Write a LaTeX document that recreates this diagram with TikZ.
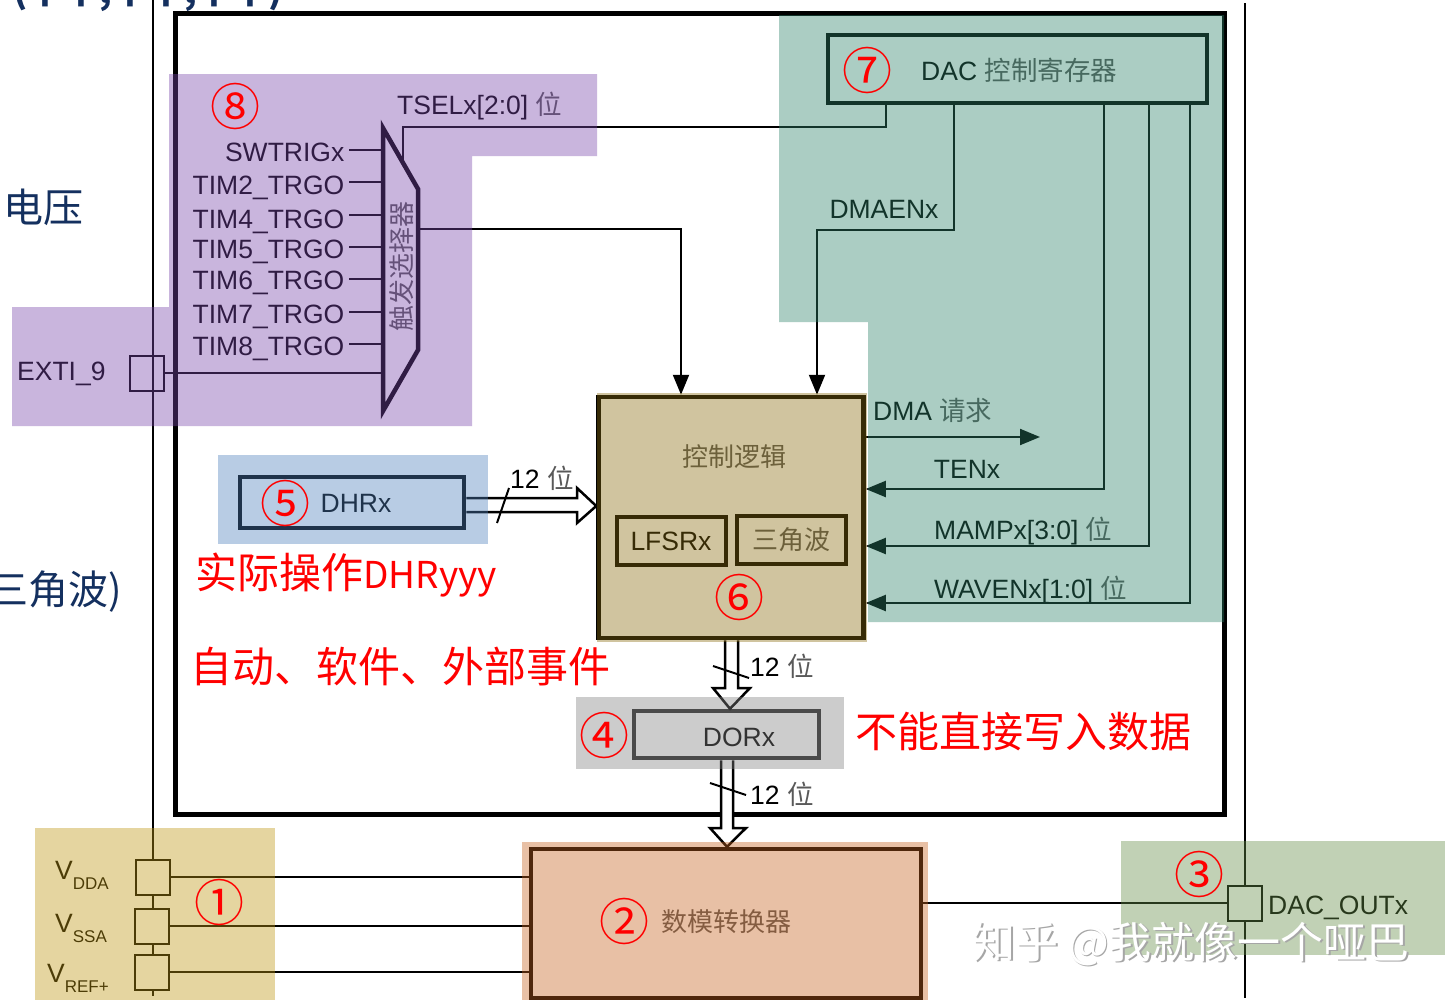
\documentclass[tikz,border=0pt]{standalone}
\usepackage{fontspec}
\setmainfont{Liberation Sans}
\newfontfamily\cjk{Noto Sans CJK SC}
\usetikzlibrary{arrows.meta}
\definecolor{cjkgray}{gray}{0.35}
\definecolor{slideblue}{RGB}{20,48,95}
\tikzset
{
	txt/.style={inner sep=0pt, text height=18.5pt, text depth=0pt, font=\fontsize{26.5}{26.5}\selectfont},
	cn/.style={inner sep=0pt, text=cjkgray, font=\cjk\fontsize{26}{26}\selectfont},
	num/.style={inner sep=0pt, text=red, font=\cjk\fontsize{50}{50}\selectfont},
	red note/.style={inner sep=0pt, text=red, font=\cjk\fontsize{42}{42}\selectfont},
	side note/.style={inner sep=0pt, text=slideblue, font=\cjk\fontsize{40}{40}\selectfont},
	block/.style={draw, line width=4.5pt, inner sep=0pt},
	pin/.style={draw, line width=2pt, minimum width=34pt, minimum height=35pt, inner sep=0pt},
	wire/.style={line width=2pt},
	wire arrow/.style={line width=2pt, -{Triangle[length=20pt, width=16pt]}},
	bus/.style={line width=2.5pt, fill=white}
}
\begin{document}
\begin{tikzpicture}[x=1pt, y=-1pt]
{
	\useasboundingbox (0,0) rectangle (1449,1004);
	\fill[white] (0,0) rectangle (1449,1004);

	% text of the slide behind the picture
	\node[side note, anchor=base west, font=\cjk\bfseries\fontsize{36}{36}\selectfont] (SlideTop) at (13,3) {(中中,中中,中中)};
	\node[side note, anchor=west] (SlideVolt) at (3,207) {电压};
	\node[side note, anchor=east] (SlideWave) at (122,592) {三角波)};

	% power rails and chip frame
	\draw[line width=5pt] (175,13) rectangle (1224,814);
	\coordinate (RailTop) at (153,0);
	\coordinate (RailEnd) at (153,996);
	\coordinate (OutTop) at (1245,3);
	\coordinate (OutEnd) at (1245,998);
	\draw[wire] (RailTop) -- (RailEnd);
	\draw[wire] (OutTop) -- (OutEnd);

	% trigger selector
	\draw[line width=4.5pt] (383,128) -- (418,189) -- (418,350) -- (383,411) -- cycle;
	\node[cn, rotate=90] (MuxText) at (402,266) {触发选择器};
	\coordinate (MuxOut) at (418,229);
	\coordinate (MuxSel) at (403,160);

	\foreach \name/\y/\ty in {SWTRIGx/150/152, TIM2_TRGO/182/185, TIM4_TRGO/215/219, TIM5_TRGO/247/249, TIM6_TRGO/279/280, TIM7_TRGO/312/314, TIM8_TRGO/344/346}
	{
		\node[txt, anchor=east] (\name) at (344.5,\ty) {\detokenize\expandafter{\name}};
		\coordinate (\name In) at (383,\y);
		\draw[wire] (\name In) -- (349,\y);
	}
	\node[txt, anchor=west] (Exti) at (17,371) {EXTI\_9};
	\node[pin] (ExtiPin) at (146.5,373) {};
	\coordinate (ExtiIn) at (383,373);
	\draw[wire] (ExtiPin) -- (ExtiIn);

	% control register
	\node[block, minimum width=379pt, minimum height=68pt] (Ctrl) at (1017.5,69) {};
	\node[txt, anchor=west] (CtrlText) at (921,71) {DAC {\cjk\textcolor{cjkgray}{控制寄存器}}};
	\node[txt, anchor=west] (Tsel) at (397,105) {TSELx[2:0] {\cjk\textcolor{cjkgray}{位}}};
	\node[txt] (Dmaen) at (884,209) {DMAENx};

	% control logic
	\node[block, minimum width=265pt, minimum height=241pt] (Logic) at (731,517.5) {};
	\node[cn] (LogicText) at (734,457) {控制逻辑};
	\node[block, line width=4pt, minimum width=109pt, minimum height=48pt, font=\fontsize{26.5}{26.5}\selectfont] (Lfsr) at (671,541) {LFSRx};
	\node[block, line width=4pt, minimum width=109pt, minimum height=48pt, text=cjkgray, font=\cjk\fontsize{26}{26}\selectfont] (Tri) at (791.5,540) {三角波};

	\draw[wire] (MuxSel) |- (886,127) -- (Ctrl.south -| 886,0);
	\draw[wire arrow] (MuxOut) -| (Logic.north -| 681,0);
	\draw[wire arrow] (Ctrl.south -| 954,0) |- (817,230) -- (Logic.north -| 817,0);

	\node[txt, anchor=west] (DmaText) at (873,411) {DMA {\cjk\textcolor{cjkgray}{请求}}};
	\coordinate (DmaEnd) at (1040,437);
	\draw[wire arrow] (Logic.east |- DmaEnd) -- (DmaEnd);
	\node[txt] (Ten) at (967,469) {TENx};
	\node[txt, anchor=west] (Mamp) at (934,530) {MAMPx[3:0] {\cjk\textcolor{cjkgray}{位}}};
	\node[txt, anchor=west] (Waven) at (934,589) {WAVENx[1:0] {\cjk\textcolor{cjkgray}{位}}};
	\draw[wire arrow] (Ctrl.south -| 1104,0) |- (Logic.east |- 0,489);
	\draw[wire arrow] (Ctrl.south -| 1149,0) |- (Logic.east |- 0,546);
	\draw[wire arrow] (Ctrl.south -| 1190,0) |- (Logic.east |- 0,603);

	% data path
	\node[block, minimum width=224pt, minimum height=51pt] (Dhr) at (352,502.5) {};
	\node[txt] (DhrText) at (356,503) {DHRx};
	\draw[bus] (Dhr.east |- 0,498) -- (577,498) -- (577,488) -- (Logic.west |- 0,506) -- (577,523) -- (577,512) -- (Dhr.east |- 0,512);
	\coordinate (DhrSlashA) at (497,523);
	\coordinate (DhrSlashB) at (509,488);
	\draw[wire] (DhrSlashA) -- (DhrSlashB);
	\node[txt, anchor=west] (DhrBits) at (510,479) {12 {\cjk\textcolor{cjkgray}{位}}};

	\node[block, draw=black!85, minimum width=185pt, minimum height=47pt] (Dor) at (726.5,734.5) {};
	\node[txt] (DorText) at (739,737) {DORx};
	\draw[bus] (Logic.south -| 725,0) -- (725,688) -- (713,688) -- (Dor.north -| 730,0) -- (750,688) -- (738,688) -- (Logic.south -| 738,0);
	\coordinate (DorSlashA) at (713,666);
	\coordinate (DorSlashB) at (749,678);
	\draw[wire] (DorSlashA) -- (DorSlashB);
	\node[txt, anchor=west] (DorBits) at (750,667) {12 {\cjk\textcolor{cjkgray}{位}}};

	\node[block, minimum width=390pt, minimum height=149pt] (Dac) at (726,923.5) {};
	\node[cn] (DacText) at (726,922) {数模转换器};
	\draw[bus] (Dor.south -| 721,0) -- (721,828) -- (710,828) -- (Dac.north -| 727,0) -- (746,828) -- (733,828) -- (Dor.south -| 733,0);
	\coordinate (OutSlashA) at (710,783);
	\coordinate (OutSlashB) at (746,795);
	\draw[wire] (OutSlashA) -- (OutSlashB);
	\node[txt, anchor=west] (OutBits) at (750,795) {12 {\cjk\textcolor{cjkgray}{位}}};

	% analog pins
	\node[pin, fill=white] (Vdda) at (152.5,877) {};
	\node[pin, fill=white] (Vssa) at (151.5,926) {};
	\node[pin, fill=white] (Vref) at (151.5,972) {};
	\node[txt, anchor=west] (VddaText) at (55,870) {V\raisebox{-10pt}{\fontsize{17}{17}\selectfont DDA}};
	\node[txt, anchor=west] (VssaText) at (55,923) {V\raisebox{-10pt}{\fontsize{17}{17}\selectfont SSA}};
	\node[txt, anchor=west] (VrefText) at (47,973) {V\raisebox{-10pt}{\fontsize{17}{17}\selectfont REF+}};
	\draw[wire] (Vdda) -- (Dac.west |- Vdda);
	\draw[wire] (Vssa) -- (Dac.west |- Vssa);
	\draw[wire] (Vref) -- (Dac.west |- Vref);
	\node[pin, fill=white] (OutPin) at (1244.5,903) {};
	\draw[wire] (Dac.east |- OutPin) -- (OutPin);
	\node[txt, anchor=west] (OutText) at (1268,905) {DAC\_OUTx};

	% coloured zones over everything
	\begin{scope}[fill opacity=0.4]
		\fill[fill={rgb,255:red,120;green,70;blue,170}] (169,74) -- (597,74) -- (597,156) -- (472,156) -- (472,426) -- (12,426) -- (12,307) -- (169,307) -- cycle;
		\fill[fill={rgb,255:red,45;green,130;blue,105}] (779,15) -- (1224,15) -- (1224,622) -- (868,622) -- (868,322) -- (779,322) -- cycle;
		\fill[fill={rgb,255:red,78;green,128;blue,188}] (218,455) rectangle (488,544);
		\fill[fill=gray] (576,697) rectangle (844,769);
		\fill[fill={rgb,255:red,138;green,108;blue,15}] (597,393) rectangle (867,642);
		\fill[fill={rgb,255:red,192;green,152;blue,18}] (35,828) rectangle (275,1000);
		\fill[fill={rgb,255:red,198;green,98;blue,30}] (522,842) rectangle (928,1000);
		\fill[fill={rgb,255:red,100;green,142;blue,70}] (1121,841) rectangle (1445,955);
	\end{scope}

	% red notes on top
	\node[num] (One) at (219,902) {①};
	\node[num] (Two) at (624,921) {②};
	\node[num] (Three) at (1199,874) {③};
	\node[num] (Four) at (604,735) {④};
	\node[num] (Five) at (285,503) {⑤};
	\node[num] (Six) at (739,597) {⑥};
	\node[num] (Seven) at (867,70) {⑦};
	\node[num] (Eight) at (235,106) {⑧};
	\node[red note, anchor=west] (NoteDhr) at (195,575) {实际操作{\fontsize{37}{37}\selectfont DHRyyy}};
	\node[red note, anchor=west] (NoteEvent) at (190,667) {自动、软件、外部事件};
	\node[red note, anchor=west] (NoteDor) at (855,732) {不能直接写入数据};

	% watermark
	\node[inner sep=0pt, anchor=east, text=black!35, font=\cjk\fontsize{43}{43}\selectfont] (MarkShade) at (1411.5,945.5) {知乎 @我就像一个哑巴};
	\node[inner sep=0pt, anchor=east, text=white, font=\cjk\fontsize{43}{43}\selectfont] (MarkText) at (1410,944) {知乎 @我就像一个哑巴};
}
\end{tikzpicture}
\end{document}
